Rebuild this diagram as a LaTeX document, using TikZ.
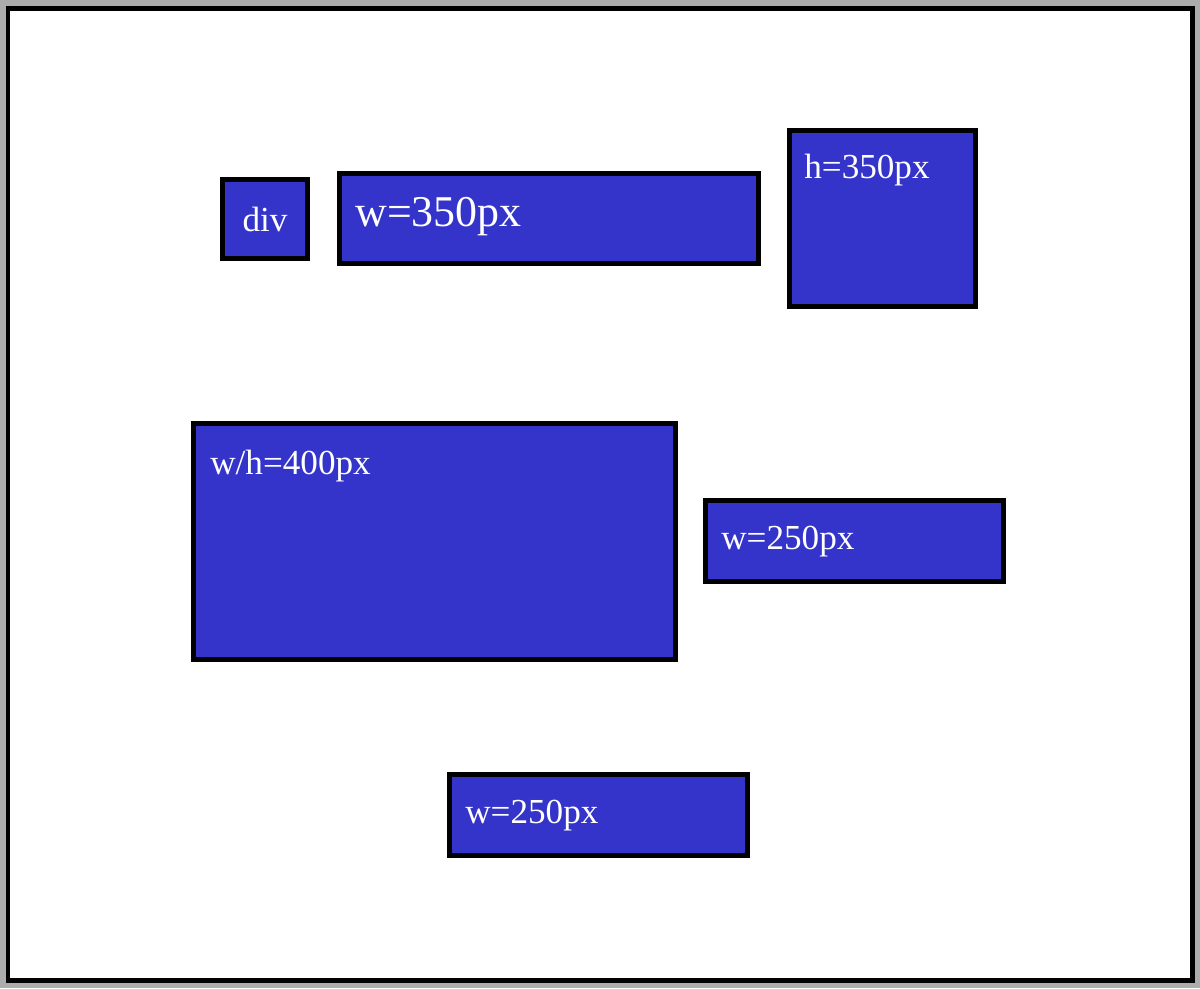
\documentclass[tikz,border=0pt]{standalone}
\usepackage{fontspec}
\setmainfont{Liberation Serif}
\usetikzlibrary{positioning}
\definecolor{boxblue}{HTML}{3434CA}
\begin{document}
\begin{tikzpicture}[
        x=0.02cm, y=-0.02cm,
        box/.style={draw, fill=boxblue, line width=0.1cm, rectangle, inner sep=0pt},
        lbl/.style={text=white, font=\fontsize{20}{22}\selectfont, inner sep=0pt, anchor=north west}
    ]
    \fill[gray!65] (0,0) rectangle (1200,988);
    \draw[fill=white, line width=0.1cm] (8,8) rectangle (1192,980);

    % top row
    \node[box, minimum width=85*0.02cm, minimum height=79*0.02cm] (div) at (265,219) {};
    \node[text=white, font=\fontsize{20}{22}\selectfont] (divtext) at (div.center) {div};
    \node[box, minimum width=419*0.02cm, minimum height=90*0.02cm] (wide) at (549,218.5) {};
    \node[lbl, font=\fontsize{25}{27}\selectfont] (widetext) at (355,197) {w=350px};
    \node[box, minimum width=186*0.02cm, minimum height=176*0.02cm] (tall) at (882.5,218.5) {};
    \node[lbl] (talltext) at (804,154) {h=350px};

    % middle row
    \node[box, minimum width=482*0.02cm, minimum height=236*0.02cm] (big) at (434.5,541.5) {};
    \node[lbl] (bigtext) at (210,450) {w/h=400px};
    \node[box, minimum width=298*0.02cm, minimum height=81*0.02cm] (mid) at (854.5,541) {};
    \node[lbl] (midtext) at (721,526) {w=250px};

    % bottom
    \node[box, minimum width=298*0.02cm, minimum height=81*0.02cm] (low) at (598.5,815) {};
    \node[lbl] (lowtext) at (465,800) {w=250px};
\end{tikzpicture}
\end{document}
